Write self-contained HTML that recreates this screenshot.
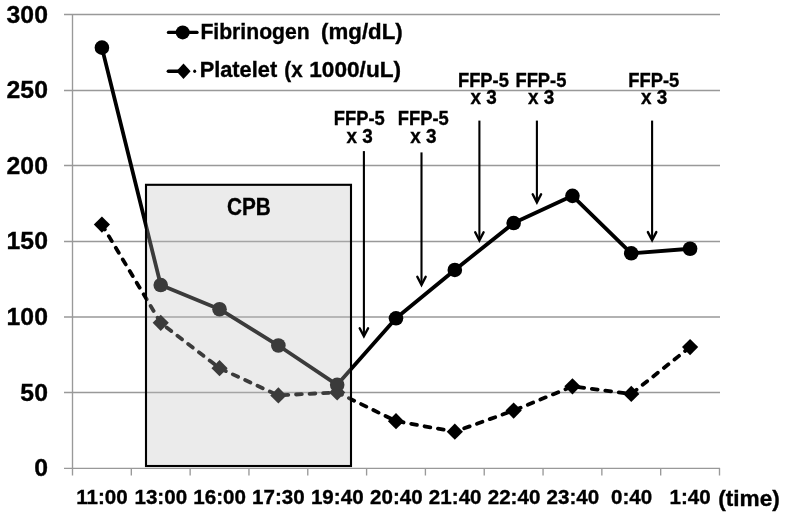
<!DOCTYPE html><html><head><meta charset="utf-8"><style>html,body{margin:0;padding:0;background:#fff;}svg{display:block;}</style></head><body><svg width="785" height="526" viewBox="0 0 785 526">
<rect width="785" height="526" fill="#fff"/>
<g stroke="#999999" stroke-width="1.35" fill="none">
<line x1="64" y1="392.50" x2="720.0" y2="392.50"/>
<line x1="64" y1="317.00" x2="720.0" y2="317.00"/>
<line x1="64" y1="241.45" x2="720.0" y2="241.45"/>
<line x1="64" y1="165.45" x2="720.0" y2="165.45"/>
<line x1="64" y1="90.45" x2="720.0" y2="90.45"/>
<line x1="64" y1="14.50" x2="720.0" y2="14.50"/>
<line x1="64" y1="468.3" x2="720.0" y2="468.3"/>
<line x1="72.5" y1="14.4" x2="72.5" y2="475.5"/>
<line x1="131.32" y1="468.0" x2="131.32" y2="475.5"/>
<line x1="190.14" y1="468.0" x2="190.14" y2="475.5"/>
<line x1="248.95" y1="468.0" x2="248.95" y2="475.5"/>
<line x1="307.77" y1="468.0" x2="307.77" y2="475.5"/>
<line x1="366.59" y1="468.0" x2="366.59" y2="475.5"/>
<line x1="425.41" y1="468.0" x2="425.41" y2="475.5"/>
<line x1="484.23" y1="468.0" x2="484.23" y2="475.5"/>
<line x1="543.05" y1="468.0" x2="543.05" y2="475.5"/>
<line x1="601.86" y1="468.0" x2="601.86" y2="475.5"/>
<line x1="660.68" y1="468.0" x2="660.68" y2="475.5"/>
<line x1="719.50" y1="468.0" x2="719.50" y2="475.5"/>
</g>
<polyline points="101.91,47.66 160.73,285.05 219.55,309.24 278.36,345.53 337.18,384.84 396.00,318.31 454.82,269.93 513.64,223.06 572.45,195.84 631.27,253.30 690.09,248.76" fill="none" stroke="#000" stroke-width="3.8" stroke-linejoin="round"/>
<circle cx="101.91" cy="47.66" r="7.3" fill="#000"/>
<circle cx="160.73" cy="285.05" r="7.3" fill="#000"/>
<circle cx="219.55" cy="309.24" r="7.3" fill="#000"/>
<circle cx="278.36" cy="345.53" r="7.3" fill="#000"/>
<circle cx="337.18" cy="384.84" r="7.3" fill="#000"/>
<circle cx="396.00" cy="318.31" r="7.3" fill="#000"/>
<circle cx="454.82" cy="269.93" r="7.3" fill="#000"/>
<circle cx="513.64" cy="223.06" r="7.3" fill="#000"/>
<circle cx="572.45" cy="195.84" r="7.3" fill="#000"/>
<circle cx="631.27" cy="253.30" r="7.3" fill="#000"/>
<circle cx="690.09" cy="248.76" r="7.3" fill="#000"/>
<polyline points="101.91,224.57 160.73,322.85 219.55,368.21 278.36,395.42 337.18,392.40 396.00,421.13 454.82,431.71 513.64,410.54 572.45,386.35 631.27,393.91 690.09,347.04" fill="none" stroke="#000" stroke-width="3.8" stroke-dasharray="5.8 7.77" stroke-dashoffset="0.1" stroke-linecap="round" stroke-linejoin="round"/>
<polygon points="101.91,216.47 110.01,224.57 101.91,232.67 93.81,224.57" fill="#000"/>
<polygon points="160.73,314.75 168.83,322.85 160.73,330.95 152.63,322.85" fill="#000"/>
<polygon points="219.55,360.11 227.65,368.21 219.55,376.31 211.45,368.21" fill="#000"/>
<polygon points="278.36,387.32 286.46,395.42 278.36,403.52 270.26,395.42" fill="#000"/>
<polygon points="337.18,384.30 345.28,392.40 337.18,400.50 329.08,392.40" fill="#000"/>
<polygon points="396.00,413.03 404.10,421.13 396.00,429.23 387.90,421.13" fill="#000"/>
<polygon points="454.82,423.61 462.92,431.71 454.82,439.81 446.72,431.71" fill="#000"/>
<polygon points="513.64,402.44 521.74,410.54 513.64,418.64 505.54,410.54" fill="#000"/>
<polygon points="572.45,378.25 580.55,386.35 572.45,394.45 564.35,386.35" fill="#000"/>
<polygon points="631.27,385.81 639.37,393.91 631.27,402.01 623.17,393.91" fill="#000"/>
<polygon points="690.09,338.94 698.19,347.04 690.09,355.14 681.99,347.04" fill="#000"/>
<rect x="146" y="184.8" width="205" height="281.2" fill="rgb(192,192,192)" fill-opacity="0.31" stroke="#000" stroke-width="2.1"/>
<g font-family="'Liberation Sans', Arial, sans-serif" font-weight="bold" stroke="#000" stroke-width="0.35">
<text transform="translate(226.95,214.80) scale(0.8695,1)" font-size="23.90" fill="#000">CPB</text>
<text transform="translate(34.14,476.10) scale(1.0000,1)" font-size="24.75" fill="#000">0</text>
<text transform="translate(20.37,400.50) scale(1.0000,1)" font-size="24.75" fill="#000">50</text>
<text transform="translate(6.61,324.90) scale(1.0000,1)" font-size="24.75" fill="#000">100</text>
<text transform="translate(6.61,249.30) scale(1.0000,1)" font-size="24.75" fill="#000">150</text>
<text transform="translate(6.61,173.70) scale(1.0000,1)" font-size="24.75" fill="#000">200</text>
<text transform="translate(6.61,98.10) scale(1.0000,1)" font-size="24.75" fill="#000">250</text>
<text transform="translate(6.61,22.50) scale(1.0000,1)" font-size="24.75" fill="#000">300</text>
<text transform="translate(76.21,504.20) scale(0.9850,1)" font-size="20.91" fill="#000">11:00</text>
<text transform="translate(134.46,504.20) scale(0.9850,1)" font-size="20.91" fill="#000">13:00</text>
<text transform="translate(193.28,504.20) scale(0.9850,1)" font-size="20.91" fill="#000">16:00</text>
<text transform="translate(252.10,504.20) scale(0.9850,1)" font-size="20.91" fill="#000">17:30</text>
<text transform="translate(310.92,504.20) scale(0.9850,1)" font-size="20.91" fill="#000">19:40</text>
<text transform="translate(370.06,504.20) scale(0.9850,1)" font-size="20.91" fill="#000">20:40</text>
<text transform="translate(428.87,504.20) scale(0.9850,1)" font-size="20.91" fill="#000">21:40</text>
<text transform="translate(487.69,504.20) scale(0.9850,1)" font-size="20.91" fill="#000">22:40</text>
<text transform="translate(546.51,504.20) scale(0.9850,1)" font-size="20.91" fill="#000">23:40</text>
<text transform="translate(611.06,504.20) scale(0.9850,1)" font-size="20.91" fill="#000">0:40</text>
<text transform="translate(669.55,504.20) scale(0.9850,1)" font-size="20.91" fill="#000">1:40</text>
<text transform="translate(718.24,505.90) scale(1.0571,1)" font-size="21.40" fill="#000">(time)</text>
<text transform="translate(333.85,125.10) scale(0.9422,1)" font-size="19.49" fill="#000">FFP-5</text>
<text transform="translate(346.40,143.10) scale(0.9697,1)" font-size="19.49" fill="#000">x 3</text>
<text transform="translate(397.75,125.10) scale(0.9422,1)" font-size="19.49" fill="#000">FFP-5</text>
<text transform="translate(410.30,143.10) scale(0.9697,1)" font-size="19.49" fill="#000">x 3</text>
<text transform="translate(457.95,86.70) scale(0.9422,1)" font-size="19.49" fill="#000">FFP-5</text>
<text transform="translate(470.50,104.40) scale(0.9697,1)" font-size="19.49" fill="#000">x 3</text>
<text transform="translate(515.45,86.70) scale(0.9422,1)" font-size="19.49" fill="#000">FFP-5</text>
<text transform="translate(528.00,104.40) scale(0.9697,1)" font-size="19.49" fill="#000">x 3</text>
<text transform="translate(628.35,86.70) scale(0.9422,1)" font-size="19.49" fill="#000">FFP-5</text>
<text transform="translate(640.90,104.40) scale(0.9697,1)" font-size="19.49" fill="#000">x 3</text>
<text transform="translate(200.38,38.90) scale(0.9854,1)" font-size="21.48" fill="#000">Fibrinogen</text>
<text transform="translate(321.06,38.90) scale(1.0370,1)" font-size="21.48" fill="#000">(mg/dL)</text>
<text transform="translate(199.64,77.40) scale(1.0153,1)" font-size="21.48" fill="#000">Platelet</text>
<text transform="translate(284.33,77.40) scale(0.9601,1)" font-size="21.48" fill="#000">(x</text>
<text transform="translate(309.29,77.40) scale(1.0538,1)" font-size="21.48" fill="#000">1000/uL)</text>
</g>
<g stroke="#000" fill="none" stroke-linejoin="miter">
<line x1="363.9" y1="151.1" x2="363.9" y2="335.7" stroke-width="2.1"/>
<polyline points="359.7,328.2 363.9,336.2 368.09999999999997,328.2" stroke-width="2.4" stroke-linecap="round"/>
<line x1="421.5" y1="152.4" x2="421.5" y2="284.3" stroke-width="2.1"/>
<polyline points="417.3,276.8 421.5,284.8 425.7,276.8" stroke-width="2.4" stroke-linecap="round"/>
<line x1="479.4" y1="120.6" x2="479.4" y2="239.8" stroke-width="2.1"/>
<polyline points="475.2,232.3 479.4,240.3 483.59999999999997,232.3" stroke-width="2.4" stroke-linecap="round"/>
<line x1="536.9" y1="120.6" x2="536.9" y2="201.8" stroke-width="2.1"/>
<polyline points="532.6999999999999,194.3 536.9,202.3 541.1,194.3" stroke-width="2.4" stroke-linecap="round"/>
<line x1="652.1" y1="120.6" x2="652.1" y2="239.6" stroke-width="2.1"/>
<polyline points="647.9,232.1 652.1,240.1 656.3000000000001,232.1" stroke-width="2.4" stroke-linecap="round"/>
</g>
<line x1="168.5" y1="32.4" x2="197" y2="32.4" stroke="#000" stroke-width="3.4" stroke-linecap="round"/>
<circle cx="182.7" cy="32.4" r="7.0" fill="#000"/>
<line x1="168.4" y1="71.2" x2="186" y2="71.2" stroke="#000" stroke-width="3.6" stroke-linecap="round"/>
<ellipse cx="194.7" cy="71.2" rx="1.5" ry="1.8" fill="#000"/>
<polygon points="183.5,63.599999999999994 190.6,71.3 183.5,79.0 176.4,71.3" fill="#000"/>
</svg></body></html>
